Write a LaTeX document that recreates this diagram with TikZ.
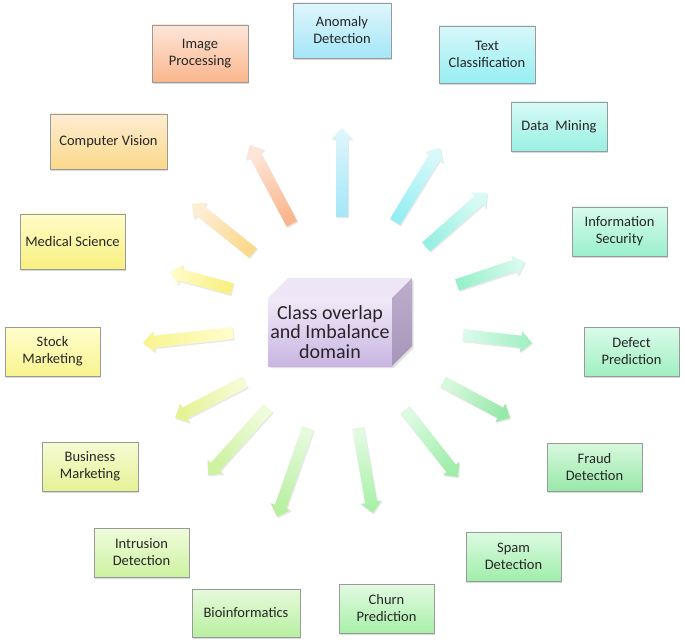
\documentclass[tikz,border=0pt]{standalone}
\usepackage{fontspec}
\setmainfont{Carlito}
\usetikzlibrary{calc,shadows}
\newcommand\boxfont{\fontsize{14.5}{17}\selectfont}
\newcommand\cubefont{\fontsize{20}{19.5}\selectfont}
\definecolor{boxline}{HTML}{9A9A9A}
\definecolor{txt}{HTML}{262626}
% box colours (light top, saturated bottom)
\definecolor{anL}{HTML}{E0F6FC}\definecolor{anD}{HTML}{A4E6F8}
\definecolor{imL}{HTML}{FDE6D8}\definecolor{imD}{HTML}{FAB68D}
\definecolor{cvL}{HTML}{FDEDD2}\definecolor{cvD}{HTML}{FBD88A}
\definecolor{meL}{HTML}{FFFCC8}\definecolor{meD}{HTML}{F8F080}
\definecolor{stL}{HTML}{FFFDCC}\definecolor{stD}{HTML}{F8F490}
\definecolor{buL}{HTML}{F7FBD4}\definecolor{buD}{HTML}{E6F296}
\definecolor{inL}{HTML}{EFFCDC}\definecolor{inD}{HTML}{CDF2A0}
\definecolor{biL}{HTML}{E6FADC}\definecolor{biD}{HTML}{B8F0A0}
\definecolor{chL}{HTML}{E2FAE2}\definecolor{chD}{HTML}{A8F0A8}
\definecolor{spL}{HTML}{DCFAE2}\definecolor{spD}{HTML}{A0EEAA}
\definecolor{frL}{HTML}{D8F8DC}\definecolor{frD}{HTML}{98E8AA}
\definecolor{deL}{HTML}{DAFAEA}\definecolor{deD}{HTML}{A0F0C2}
\definecolor{isL}{HTML}{D8FAEE}\definecolor{isD}{HTML}{9AF0CC}
\definecolor{dmL}{HTML}{D8FAF6}\definecolor{dmD}{HTML}{98F0E2}
\definecolor{tcL}{HTML}{D8F8FA}\definecolor{tcD}{HTML}{96EEF2}
\definecolor{cubeL}{HTML}{F1EAF8}\definecolor{cubeD}{HTML}{C9B5E3}
\definecolor{cubeTop}{HTML}{EEE6F6}
\definecolor{sideL}{HTML}{BDAECD}\definecolor{sideD}{HTML}{A697BA}
\newcommand\radarrow[6]{%
  \coordinate (#1-b) at ($(#3)!11pt!(#2)$);
  \path[arrowbody, top color=#4, bottom color=#5, shading angle=#6]
    ($(#2)!6pt!90:(#3)$) -- ($(#1-b)!6pt!90:(#3)$) -- ($(#1-b)!10.5pt!90:(#3)$) -- (#3)
    -- ($(#1-b)!10.5pt!-90:(#3)$) -- ($(#1-b)!6pt!-90:(#3)$) -- ($(#2)!6pt!-90:(#3)$) -- cycle;
}
\begin{document}
\begin{tikzpicture}[x=1pt,y=-1pt,
  box/.style={draw=boxline, line width=0.6pt, align=center, font=\boxfont, text=txt,
    inner sep=2pt, drop shadow={opacity=0.25, shadow xshift=1.2pt, shadow yshift=-1.6pt, fill=black!60}},
  arrowbody/.style={drop shadow={opacity=0.15, shadow xshift=1pt, shadow yshift=-1.3pt, fill=black!60}}]
\fill[white] (0,0) rectangle (685,644);
\useasboundingbox (0,0) rectangle (685,644);

% ---- boxes ----
\node[box, minimum width=98pt, minimum height=55pt, top color=anL, bottom color=anD] (anomaly) at (342,30.5) {Anomaly\\Detection};
\node[box, minimum width=96pt, minimum height=57pt, top color=imL, bottom color=imD] (image) at (200,53.5) {Image\\Processing};
\node[box, minimum width=117pt, minimum height=55pt, top color=cvL, bottom color=cvD] (vision) at (108.5,141.5) {Computer Vision};
\node[box, minimum width=105pt, minimum height=55pt, top color=meL, bottom color=meD] (medical) at (72.5,241.5) {Medical Science};
\node[box, minimum width=95pt, minimum height=49pt, top color=stL, bottom color=stD] (stock) at (52.5,351.5) {Stock\\Marketing};
\node[box, minimum width=96pt, minimum height=49pt, top color=buL, bottom color=buD] (business) at (90,466.5) {Business\\Marketing};
\node[box, minimum width=95pt, minimum height=49pt, top color=inL, bottom color=inD] (intrusion) at (141.5,552.5) {Intrusion\\Detection};
\node[box, minimum width=108pt, minimum height=48pt, top color=biL, bottom color=biD] (bio) at (246,613) {Bioinformatics};
\node[box, minimum width=95pt, minimum height=49pt, top color=chL, bottom color=chD] (churn) at (386.5,608.5) {Churn\\Prediction};
\node[box, minimum width=95pt, minimum height=49pt, top color=spL, bottom color=spD] (spam) at (513.5,556.5) {Spam\\Detection};
\node[box, minimum width=95pt, minimum height=48pt, top color=frL, bottom color=frD] (fraud) at (594.5,467) {Fraud\\Detection};
\node[box, minimum width=95pt, minimum height=49pt, top color=deL, bottom color=deD] (defect) at (631.5,351.5) {Defect\\Prediction};
\node[box, minimum width=95pt, minimum height=49pt, top color=isL, bottom color=isD] (infosec) at (619.5,231.5) {Information\\Security};
\node[box, minimum width=96pt, minimum height=49pt, top color=dmL, bottom color=dmD] (datamining) at (559,126.5) {Data~~Mining};
\node[box, minimum width=96pt, minimum height=57pt, top color=tcL, bottom color=tcD] (textclass) at (487,54.5) {Text\\Classification};

% ---- arrow end points ----
\coordinate (t1) at (342,217);  \coordinate (h1) at (342,128);
\coordinate (t2) at (292,224);  \coordinate (h2) at (250,145);
\coordinate (t3) at (253,253);  \coordinate (h3) at (192,204);
\coordinate (t4) at (232,289);  \coordinate (h4) at (170,272);
\coordinate (t5) at (233,333);  \coordinate (h5) at (143,343);
\coordinate (t6) at (245,382);  \coordinate (h6) at (175,418);
\coordinate (t7) at (268,408);  \coordinate (h7) at (208,475);
\coordinate (t8) at (308,428);  \coordinate (h8) at (277,517);
\coordinate (t9) at (358,428);  \coordinate (h9) at (373,513);
\coordinate (t10) at (405,410); \coordinate (h10) at (458,477);
\coordinate (t11) at (443,382); \coordinate (h11) at (510,418);
\coordinate (t12) at (463,335); \coordinate (h12) at (532,343);
\coordinate (t13) at (457,285); \coordinate (h13) at (525,262);
\coordinate (t14) at (426,247); \coordinate (h14) at (487,193);
\coordinate (t15) at (395,222); \coordinate (h15) at (440,148);

% ---- arrows ----
\radarrow{a1}{t1}{h1}{anL}{anD}{0}
\radarrow{a2}{t2}{h2}{imL}{imD}{28}
\radarrow{a3}{t3}{h3}{cvL}{cvD}{51}
\radarrow{a4}{t4}{h4}{meL}{meD}{75}
\radarrow{a5}{t5}{h5}{stL}{stD}{-84}
\radarrow{a6}{t6}{h6}{buL}{buD}{-63}
\radarrow{a7}{t7}{h7}{inL}{inD}{-42}
\radarrow{a8}{t8}{h8}{biL}{biD}{-19}
\radarrow{a9}{t9}{h9}{chL}{chD}{10}
\radarrow{a10}{t10}{h10}{spL}{spD}{38}
\radarrow{a11}{t11}{h11}{frL}{frD}{62}
\radarrow{a12}{t12}{h12}{deL}{deD}{83}
\radarrow{a13}{t13}{h13}{isL}{isD}{-71}
\radarrow{a14}{t14}{h14}{dmL}{dmD}{-48}
\radarrow{a15}{t15}{h15}{tcL}{tcD}{-31}

% ---- central cube ----
\coordinate (fA) at (268,298); \coordinate (fB) at (392,298);
\coordinate (fC) at (392,366); \coordinate (fD) at (268,366);
\coordinate (bA) at (288,278); \coordinate (bB) at (412,278);
\coordinate (bC) at (412,346);
\fill[black, opacity=0.12] ($(fD)+(1.5,2)$) -- ($(fC)+(1.5,2)$) -- ($(bC)+(1.5,2)$) -- ($(bB)+(1.5,2)$) -- ($(fB)+(1.5,2)$) -- cycle;
\path[top color=cubeL, bottom color=cubeD] (fA) -- (fB) -- (fC) -- (fD) -- cycle;
\path[fill=cubeTop] (fA) -- (bA) -- (bB) -- (fB) -- cycle;
\path[top color=sideL, bottom color=sideD] (fB) -- (bB) -- (bC) -- (fC) -- cycle;
\node[font=\cubefont, text=txt, align=center] (center) at (330,332) {Class overlap\\and Imbalance\\domain};
\end{tikzpicture}
\end{document}
